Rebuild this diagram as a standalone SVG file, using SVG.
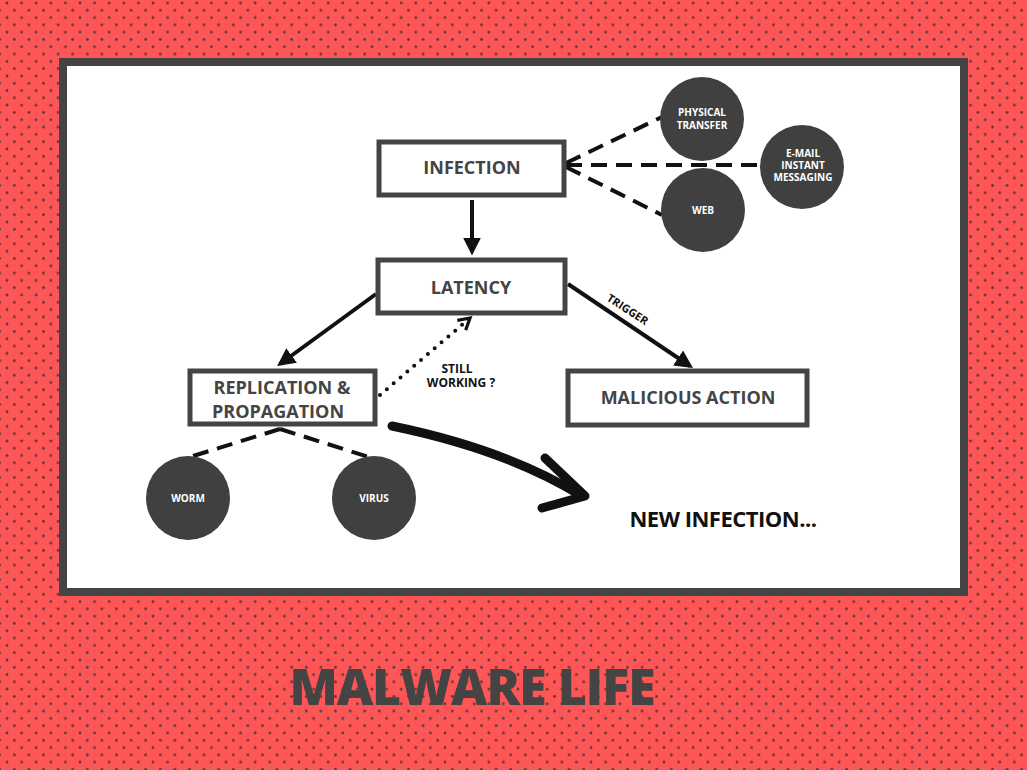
<svg xmlns="http://www.w3.org/2000/svg" width="1027" height="770" viewBox="0 0 1027 770">
<defs>
<pattern id="dots" width="14.6" height="14.6" patternUnits="userSpaceOnUse" x="7" y="3">
<rect width="14.6" height="14.6" fill="#fe5656"/>
<circle cx="0" cy="0" r="1.4" fill="#5a3a3a"/><circle cx="14.6" cy="0" r="1.4" fill="#5a3a3a"/><circle cx="0" cy="14.6" r="1.4" fill="#5a3a3a"/><circle cx="14.6" cy="14.6" r="1.4" fill="#5a3a3a"/>
<circle cx="7.3" cy="7.3" r="1.4" fill="#5a3a3a"/>
</pattern>
<marker id="ah" viewBox="0 0 10 10" refX="8" refY="5" markerWidth="4.5" markerHeight="4.5" orient="auto"><path d="M0,0 L10,5 L0,10 z" fill="#111"/></marker>
<marker id="oh" viewBox="0 0 10 10" refX="8" refY="5" markerWidth="4" markerHeight="4" orient="auto"><path d="M1,1 L8,5 L1,9" fill="none" stroke="#111" stroke-width="2"/></marker>
</defs>
<style>
.box{fill:#fff;stroke:#444;stroke-width:5}
.bt{font-family:"Open Sans","Liberation Sans",sans-serif;font-weight:bold;font-size:18px;fill:#444;text-anchor:middle}
.ct{font-family:"Open Sans","Liberation Sans",sans-serif;font-weight:bold;font-size:10px;fill:#fff;text-anchor:middle}
.circ{fill:#404040}
.dash{stroke:#111;stroke-width:4;stroke-dasharray:16 9;fill:none}
.ln{stroke:#111;stroke-width:4;fill:none}
</style>
<rect width="1027" height="770" fill="url(#dots)"/>
<rect x="63" y="62" width="901" height="530" fill="#fff" stroke="#444" stroke-width="8"/>
<g id="connectors">
<line class="dash" x1="566" y1="163" x2="662" y2="117"/>
<line class="dash" x1="566" y1="165" x2="762" y2="165"/>
<line class="dash" x1="566" y1="167" x2="662" y2="215"/>
<line class="ln" x1="472" y1="200" x2="472" y2="252" marker-end="url(#ah)"/>
<line class="ln" x1="376" y1="294" x2="280" y2="364" marker-end="url(#ah)"/>
<line class="ln" x1="568" y1="284" x2="690" y2="366" marker-end="url(#ah)"/>
<line x1="380" y1="395" x2="470" y2="318" stroke="#111" stroke-width="4" stroke-dasharray="0 9" stroke-linecap="round" marker-end="url(#oh)"/>
<line class="dash" x1="280" y1="429" x2="190" y2="457"/>
<line class="dash" x1="280" y1="429" x2="372" y2="458"/>
<path d="M392,426 C450,438 520,458 580,495" stroke="#111" stroke-width="9" fill="none" stroke-linecap="round"/>
<path d="M545,458 L585,496 L542,508" stroke="#111" stroke-width="9" fill="none" stroke-linecap="round" stroke-linejoin="round"/>
<text x="606" y="300" transform="rotate(33 606 300)" font-family="Open Sans, Liberation Sans, sans-serif" font-weight="bold" font-size="11" fill="#111">TRIGGER</text>
<text x="457" y="373" font-family="Open Sans, Liberation Sans, sans-serif" font-weight="bold" font-size="12" fill="#111" text-anchor="middle">STILL</text>
<text x="461" y="387" font-family="Open Sans, Liberation Sans, sans-serif" font-weight="bold" font-size="12" fill="#111" text-anchor="middle">WORKING ?</text>
</g>
<g id="infection"><rect class="box" x="379" y="142" width="185" height="53"/><text class="bt" x="472" y="174">INFECTION</text></g>
<g id="latency"><rect class="box" x="378" y="260" width="187" height="53"/><text class="bt" x="471" y="294">LATENCY</text></g>
<g id="replication"><rect class="box" x="190" y="371" width="185" height="53"/><text class="bt" x="282" y="394">REPLICATION &amp;</text><text class="bt" x="278" y="418">PROPAGATION</text></g>
<g id="malicious"><rect class="box" x="568" y="371" width="239" height="54"/><text class="bt" x="688" y="404">MALICIOUS ACTION</text></g>
<g id="physical"><circle class="circ" cx="702" cy="119" r="42"/><text class="ct" x="702" y="116">PHYSICAL</text><text class="ct" x="702" y="129">TRANSFER</text></g>
<g id="email"><circle class="circ" cx="802" cy="167" r="42"/><text class="ct" x="803" y="157">E-MAIL</text><text class="ct" x="803" y="169">INSTANT</text><text class="ct" x="803" y="181">MESSAGING</text></g>
<g id="web"><circle class="circ" cx="703" cy="210" r="42"/><text class="ct" x="703" y="214">WEB</text></g>
<g id="worm"><circle class="circ" cx="188" cy="498" r="42"/><text class="ct" x="188" y="502">WORM</text></g>
<g id="virus"><circle class="circ" cx="374" cy="498" r="42"/><text class="ct" x="374" y="502">VIRUS</text></g>
<g id="newinf"><text x="723" y="527" font-family="Open Sans, Liberation Sans, sans-serif" font-weight="bold" font-size="22" fill="#111" text-anchor="middle" letter-spacing="-0.5">NEW INFECTION...</text></g>
<text x="472" y="705" font-family="Open Sans, Liberation Sans, sans-serif" font-weight="800" font-size="50" fill="#444" text-anchor="middle" letter-spacing="-1">MALWARE LIFE</text>
</svg>
